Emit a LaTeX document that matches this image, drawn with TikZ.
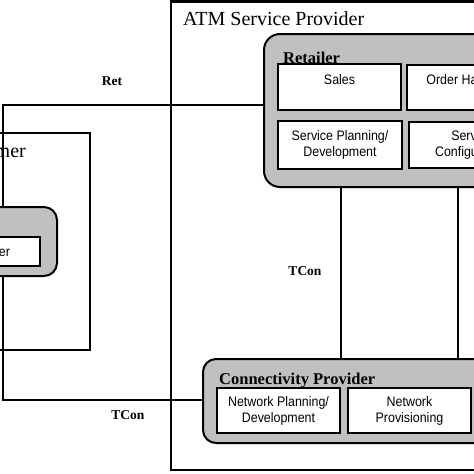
\documentclass[tikz,border=0pt]{standalone}
\usepackage{fontspec}
\setmainfont{Liberation Serif}
\newfontfamily\boxfont{Liberation Sans}[FakeStretch=0.9]
\definecolor{rolegray}{RGB}{192,192,192}
\begin{document}
\begin{tikzpicture}[x=1pt,y=-1pt,
  frame/.style={draw=black,line width=2.6pt,inner sep=0pt},
  role/.style={draw=black,line width=2pt,fill=rolegray,inner sep=0pt},
  func/.style={draw=black,line width=2pt,fill=white,inner sep=0pt,align=center,
    font=\boxfont\fontsize{13.8}{16}\selectfont},
  link/.style={draw=black,line width=1.3pt},
  lbl/.style={font=\bfseries\fontsize{13.5}{16}\selectfont,inner sep=0pt},
  domtitle/.style={font=\fontsize{20}{24}\selectfont,inner sep=0pt},
  roletitle/.style={font=\bfseries\fontsize{16.5}{20}\selectfont,inner sep=0pt,anchor=base west}]
\useasboundingbox (0,0) rectangle (474,474);
\clip (0,0) rectangle (474,474);
% domains
\node[frame,minimum width=389pt,minimum height=468.5pt] (atm) at (365.5,235.75) {};
\node[domtitle,anchor=base west] (atmt) at (183,25) {ATM Service Provider};
\node[frame,minimum width=190pt,minimum height=217pt] (cust) at (-5,241.5) {};
\node[domtitle,anchor=base east] (custt) at (26,157) {Customer};
% connector end coordinates
\coordinate (lx) at (3,105);
\coordinate (ly) at (3,400);
\coordinate (v1) at (341,0);
\coordinate (v2) at (458,0);
% roles
\node[role,rounded corners=13pt,minimum width=145pt,minimum height=69pt] (custrole) at (-15.5,241.5) {};
\node[func,minimum width=114pt,minimum height=29pt] (custfunc) at (-17,251.5) {Customer};
\node[role,rounded corners=16pt,minimum width=296pt,minimum height=153pt] (retailer) at (412,110.5) {};
\node[role,rounded corners=13pt,minimum width=357pt,minimum height=84pt] (conn) at (381.5,401) {};
% connectors
\draw[link] (lx |- custrole.north) -- (lx) -- (retailer.west |- lx);
\draw[link] (ly |- custrole.south) -- (ly) -- (conn.west |- ly);
\draw[link] (retailer.south -| v1) -- (conn.north -| v1);
\draw[link] (retailer.south -| v2) -- (conn.north -| v2);
% functions
\node[func,minimum width=123pt,text height=20pt,text depth=26pt] (sales) at (339.5,87) {Sales};
\node[func,minimum width=123pt,text height=20pt,text depth=25pt] (order) at (468.5,87) {Order Handling};
\node[func,minimum width=124pt,minimum height=48pt] (splan) at (340,145) {Service Planning/\\Development};
\node[func,minimum width=126pt,minimum height=46pt] (sconf) at (472,145) {Service\\Configuration};
\node[func,minimum width=123pt,minimum height=45pt] (nplan) at (278.5,410.5) {Network Planning/\\Development};
\node[func,minimum width=123pt,minimum height=45pt] (nprov) at (409.5,410.5) {Network\\Provisioning};
% role titles
\node[roletitle] (rett) at (283,63.5) {Retailer};
\node[roletitle] (connt) at (219,384) {Connectivity Provider};
% labels
\node[lbl] (retl) at (112,81) {Ret};
\node[lbl] (tcon1) at (305,271) {TCon};
\node[lbl] (tcon2) at (128,415) {TCon};
\end{tikzpicture}
\end{document}
